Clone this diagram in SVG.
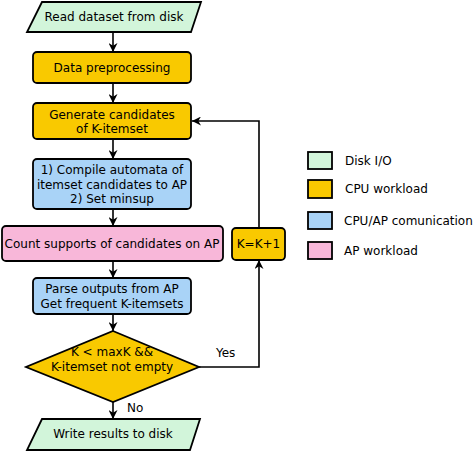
<svg xmlns="http://www.w3.org/2000/svg" width="474" height="452" viewBox="0 0 474 452">
<defs>
<style>
.t{font-family:"DejaVu Sans",sans-serif;font-size:12px;fill:#000;text-anchor:middle}
.l{font-family:"DejaVu Sans",sans-serif;font-size:12px;fill:#000}
.sh{stroke:#000;stroke-width:1.8}
.io{fill:#d2f5da}
.cpu{fill:#f9c900}
.com{fill:#a9d3f7}
.ap{fill:#f8b7d9}
.c{fill:none;stroke:#000;stroke-width:1.6}
</style>
<marker id="ah" viewBox="0 0 10 10" refX="10" refY="5" markerWidth="9" markerHeight="9" markerUnits="userSpaceOnUse" orient="auto">
<path d="M0,0 L10,5 L0,10 L3,5 Z" fill="#000"/>
</marker>
</defs>
<rect width="474" height="452" fill="#fff"/>
<g id="connectors">
<path class="c" d="M113,32 V52" marker-end="url(#ah)"/>
<path class="c" d="M113,83 V103" marker-end="url(#ah)"/>
<path class="c" d="M113,139 V159" marker-end="url(#ah)"/>
<path class="c" d="M113,209 V226" marker-end="url(#ah)"/>
<path class="c" d="M113,261 V278" marker-end="url(#ah)"/>
<path class="c" d="M113,314 V331" marker-end="url(#ah)"/>
<path class="c" d="M113,402 V419" marker-end="url(#ah)"/>
<path class="c" d="M199,367 H259 V260" marker-end="url(#ah)"/>
<path class="c" d="M259,228 V121 H192" marker-end="url(#ah)"/>
<text class="l" x="216" y="357">Yes</text>
<text class="l" x="127" y="412">No</text>
</g>
<g id="read">
<polygon class="sh io" points="42,2 201,2 191,32 27,32"/>
<text class="t" x="114" y="21">Read dataset from disk</text>
</g>
<g id="preprocess">
<rect class="sh cpu" x="33" y="52" width="158" height="31" rx="4"/>
<text class="t" x="112" y="72">Data preprocessing</text>
</g>
<g id="generate">
<rect class="sh cpu" x="33" y="103" width="158" height="36" rx="4"/>
<text class="t" x="112" y="119">Generate candidates</text>
<text class="t" x="112" y="133">of K-itemset</text>
</g>
<g id="compile">
<rect class="sh com" x="33" y="159" width="158" height="50" rx="4"/>
<text class="t" x="112" y="174">1) Compile automata of</text>
<text class="t" x="112" y="188.5">itemset candidates to AP</text>
<text class="t" x="112" y="203">2) Set minsup</text>
</g>
<g id="count">
<rect class="sh ap" x="2" y="226" width="221" height="35" rx="4"/>
<text class="t" x="112" y="248">Count supports of candidates on AP</text>
</g>
<g id="parse">
<rect class="sh com" x="33" y="278" width="158" height="36" rx="4"/>
<text class="t" x="112" y="293">Parse outputs from AP</text>
<text class="t" x="112" y="307.5">Get frequent K-itemsets</text>
</g>
<g id="decision">
<polygon class="sh cpu" points="113,331 199,367 113,402 26,367"/>
<text class="t" x="112" y="356">K &lt; maxK &amp;&amp;</text>
<text class="t" x="112" y="371">K-itemset not empty</text>
</g>
<g id="write">
<polygon class="sh io" points="42,419 200,419 190,450 27,450"/>
<text class="t" x="113" y="438">Write results to disk</text>
</g>
<g id="increment">
<rect class="sh cpu" x="232" y="228" width="53" height="32" rx="4"/>
<text class="t" x="258.5" y="248">K=K+1</text>
</g>
<g id="legend">
<rect class="sh io" x="308" y="152" width="24" height="17"/>
<text class="l" x="345" y="165">Disk I/O</text>
<rect class="sh cpu" x="308" y="180" width="24" height="18"/>
<text class="l" x="345" y="193">CPU workload</text>
<rect class="sh com" x="308" y="212" width="24" height="17"/>
<text class="l" x="344" y="225">CPU/AP comunication</text>
<rect class="sh ap" x="308" y="242" width="24" height="17"/>
<text class="l" x="344" y="255">AP workload</text>
</g>
</svg>
